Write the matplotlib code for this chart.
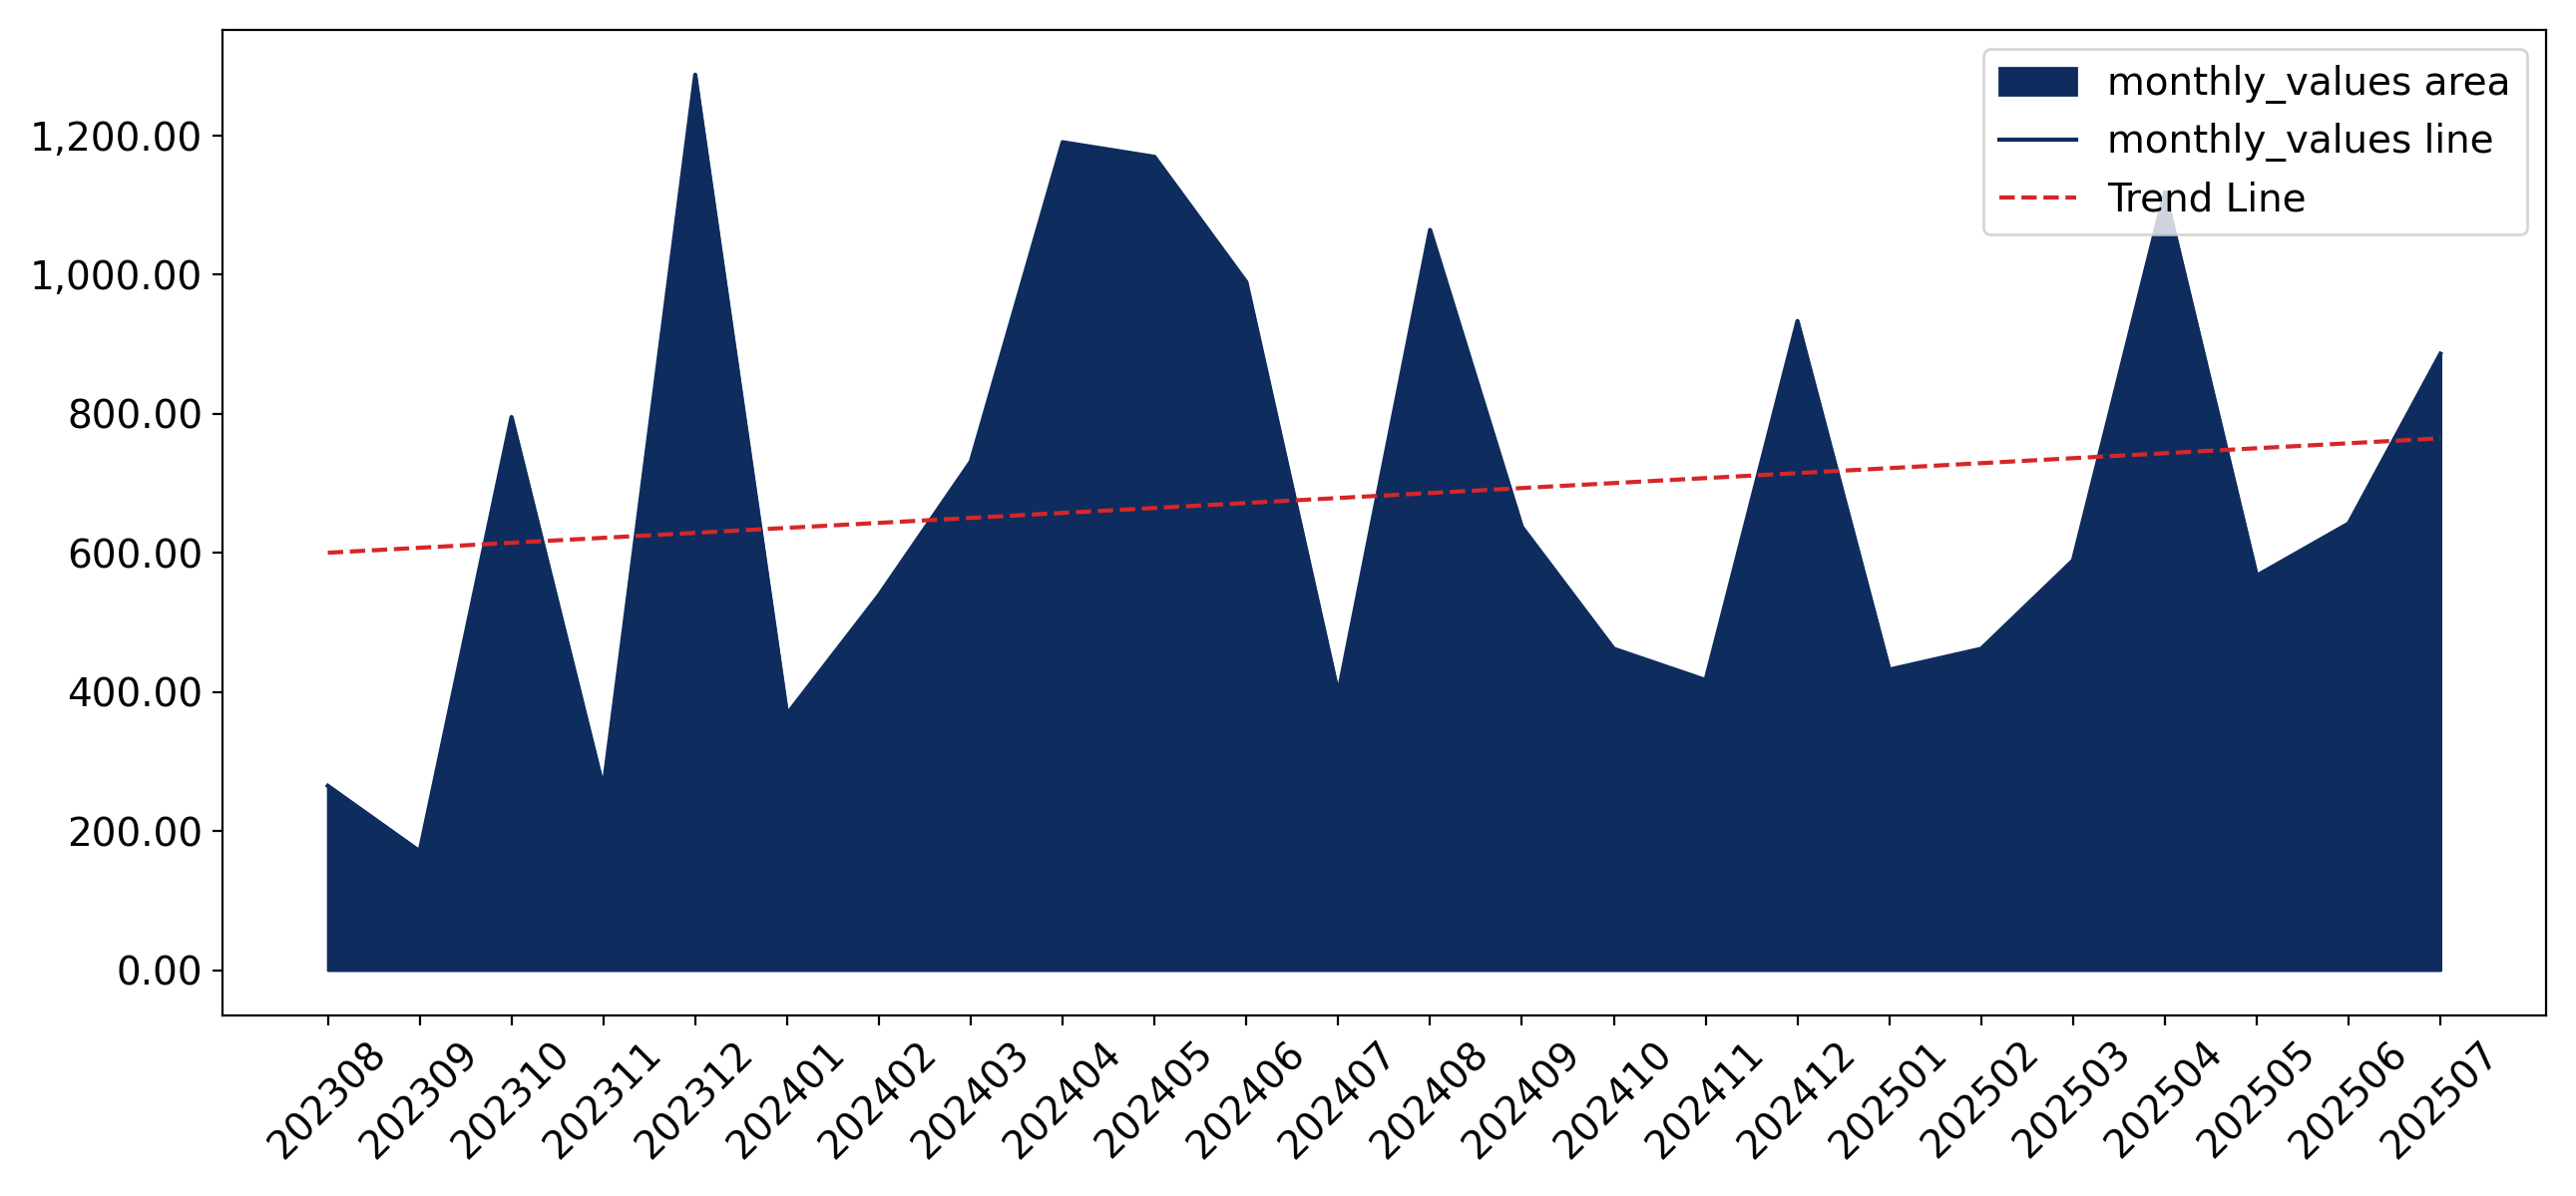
import matplotlib
matplotlib.use("Agg")
import matplotlib.pyplot as plt
import numpy as np
from matplotlib.ticker import FuncFormatter

months = ["202308","202309","202310","202311","202312","202401","202402","202403","202404","202405","202406","202407",
          "202408","202409","202410","202411","202412","202501","202502","202503","202504","202505","202506","202507"]
values = [265,171,795,262,1287,368,539,731,1190,1169,989,398,1064,637,462,417,933,432,462,589,1118,567,642,886]

fig, ax = plt.subplots(figsize=(12.91, 5.995), dpi=200)
x = np.arange(len(months))
color = "#0e2d5e"
ax.fill_between(x, values, color=color, label="monthly_values area")
ax.plot(x, values, color=color, lw=1.5, label="monthly_values line")
coef = np.polyfit(x, values, 1)
ax.plot(x, np.polyval(coef, x), "--", color="#d62728", lw=1.5, label="Trend Line")
ax.set_xticks(x)
ax.set_xticklabels(months, rotation=45, fontsize=14)
ax.tick_params(axis="y", labelsize=14)
ax.yaxis.set_major_formatter(FuncFormatter(lambda v, p: f"{v:,.2f}"))
ax.legend(loc="upper right", fontsize=14)
fig.tight_layout()
fig.savefig("out.png")
